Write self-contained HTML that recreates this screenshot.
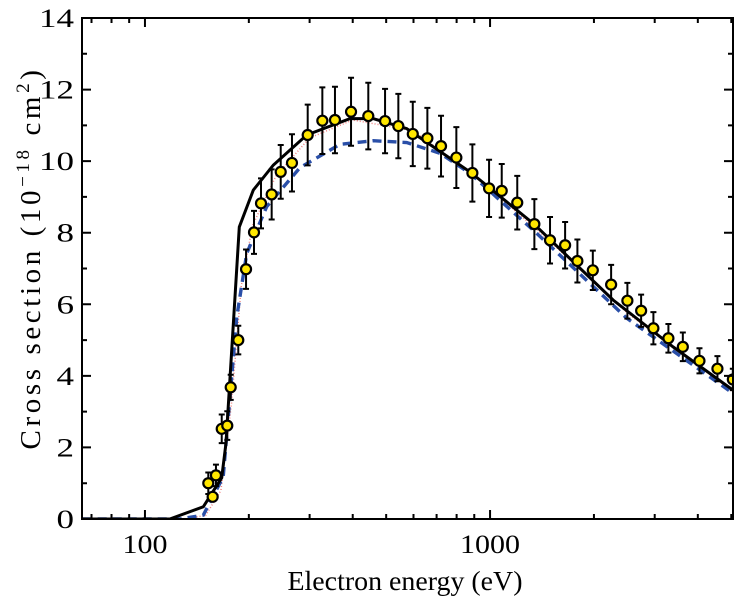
<!DOCTYPE html>
<html><head><meta charset="utf-8">
<style>
html,body{margin:0;padding:0;background:#fff;}
svg text{font-family:"Liberation Serif","DejaVu Serif",serif;fill:#000;}
</style></head>
<body>
<svg id="chart" width="734" height="602" viewBox="0 0 734 602" xmlns="http://www.w3.org/2000/svg">
<g id="plot"></g>
</svg>
<script>
const dataEnergy=[152.6,160.6,157.1,166.9,173.2,177.2,186.4,196.3,207.0,216.9,232.9,247.4,266.7,296.2,326.6,355.3,395.5,443.8,496.3,542.3,597.1,658.2,721,798.6,888.8,993.4,1081,1199,1344,1492,1650,1791,1985,2243,2500,2740,2974,3287,3619,4044,4559,5052];
const dataValue=[1.0,1.22,0.62,2.52,2.61,3.68,5.0,6.98,8.01,8.82,9.07,9.70,9.95,10.73,11.13,11.15,11.38,11.26,11.12,10.98,10.76,10.64,10.42,10.1,9.67,9.24,9.17,8.84,8.24,7.79,7.65,7.21,6.95,6.55,6.1,5.82,5.33,5.05,4.81,4.42,4.2,3.9];
const dataError=[0.3,0.3,0.1,0.4,0.4,0.35,0.4,0.55,0.6,0.7,0.7,0.75,0.8,0.85,0.93,0.93,0.95,0.93,0.9,0.9,0.9,0.85,0.85,0.85,0.8,0.8,0.75,0.75,0.7,0.65,0.65,0.6,0.55,0.55,0.5,0.45,0.45,0.4,0.4,0.35,0.35,0.3];
const solidEnergy=[66,118,147.6,166.9,171.7,187.6,206.0,235.4,294.2,392.9,458.1,573.4,874.9,1341,2273,3392,5061];
const solidValue=[0,0,0.34,1.15,2.12,8.16,9.19,9.89,10.73,11.19,11.19,10.91,9.7,8.24,6.12,4.81,3.6];
const dashEnergy=[66,126.3,147.6,168.6,184.5,197.2,225.3,281.4,367.5,458.1,573.4,716.3,874.9,1366,2490,5061];
const dashValue=[0,0,0.11,1.18,5.65,7.42,8.73,9.82,10.47,10.57,10.52,10.22,9.66,7.98,5.61,3.51];
const dotEnergy=[66,130,150,166,178,190,205,240,300,400,600,900,1400,2500,5061];
const dotValue=[0,0,0.1,0.8,3.2,6.5,8.2,9.6,10.65,11.15,10.85,9.6,8.0,5.75,3.55];
const yTicks=[0,2,4,6,8,10,12,14];
const xTickLabels=[100,1000];
const xMinor=[70,80,90,200,300,400,500,600,700,800,900,2000,3000,4000,5000];

const L=82,R=733,T=18,B=519;
const X0=Math.log10(65.7),X1=Math.log10(5058);
function xs(e){return L+(Math.log10(e)-X0)/(X1-X0)*(R-L);}
function ys(v){return B-(v/14)*(B-T);}
const NS="http://www.w3.org/2000/svg";
const g=document.getElementById('plot');
function mk(tag,attrs,parent){const el=document.createElementNS(NS,tag);for(const k in attrs)el.setAttribute(k,attrs[k]);(parent||g).appendChild(el);return el;}
const clip=mk('clipPath',{id:'clp'});mk('rect',{x:L,y:T,width:R-L,height:B-T},clip);

function path(E,V){return E.map((e,i)=>(i?'L':'M')+xs(e).toFixed(1)+','+ys(V[i]).toFixed(1)).join(' ');}
const series=mk('g',{'clip-path':'url(#clp)'});


let p=mk('path',{d:path(dotEnergy,dotValue),fill:'none',stroke:'#f08080','stroke-width':1.5,'stroke-dasharray':'1 2'},series);


p=mk('path',{d:path(dashEnergy,dashValue),fill:'none',stroke:'#2a4fa8','stroke-width':3.4,'stroke-dasharray':'9 6'},series);


p=mk('path',{d:path(solidEnergy,solidValue),fill:'none',stroke:'#000','stroke-width':3},series);


dataEnergy.forEach((e,i)=>{
  const x=xs(e),y1=ys(dataValue[i]+dataError[i]),y2=ys(dataValue[i]-dataError[i]);
  const eb=mk('path',{d:`M${x},${y1}V${y2}M${x-3},${y1}H${x+3}M${x-3},${y2}H${x+3}`,stroke:'#000','stroke-width':2,fill:'none'},series);
  
  
});
dataEnergy.forEach((e,i)=>{
  const c=mk('circle',{cx:xs(e),cy:ys(dataValue[i]),r:5,fill:'#ffe600',stroke:'#000','stroke-width':2.2},series);
  
  
});

const fr=mk('rect',{x:L,y:T,width:R-L,height:B-T,fill:'none',stroke:'#000','stroke-width':2});


let td='';
yTicks.forEach(v=>{const y=ys(v);td+=`M${L},${y}h9M${R},${y}h-9`;if(v<14){const y2=ys(v+1);td+=`M${L},${y2}h5M${R},${y2}h-5`;}});
xTickLabels.forEach(e=>{const x=xs(e);td+=`M${x},${B}v-9M${x},${T}v9`;});
xMinor.forEach(e=>{const x=xs(e);td+=`M${x},${B}v-5M${x},${T}v5`;});
const tk=mk('path',{d:td,stroke:'#000','stroke-width':2,fill:'none'});


yTicks.forEach(v=>{
  const s=String(v);
  const t=mk('text',{x:L-8,y:ys(v)+9,'text-anchor':'end','font-size':26,textLength:s.length*17.5,lengthAdjust:'spacingAndGlyphs'});
  t.textContent=s;
  
  
});
xTickLabels.forEach(e=>{
  const s=String(e);
  const t=mk('text',{x:xs(e),y:B+34,'text-anchor':'middle','font-size':26,textLength:s.length*15,lengthAdjust:'spacingAndGlyphs'});
  t.textContent=s;
  
  
});
</script>
<svg style="position:absolute;left:0;top:0" width="734" height="602">
<text x="405" y="590" text-anchor="middle" font-size="27" textLength="235" lengthAdjust="spacingAndGlyphs" style='font-family:"Liberation Serif",serif'>Electron energy (eV)</text>
<text transform="translate(40,258) rotate(-90)" text-anchor="middle" font-size="29" style='font-family:"Liberation Serif",serif;letter-spacing:3.6px'>Cross section (10<tspan dy="-11" font-size="19">−18</tspan><tspan dy="11"> cm</tspan><tspan dy="-11" font-size="19">2</tspan><tspan dy="11">)</tspan></text>
</svg>
</body></html>
